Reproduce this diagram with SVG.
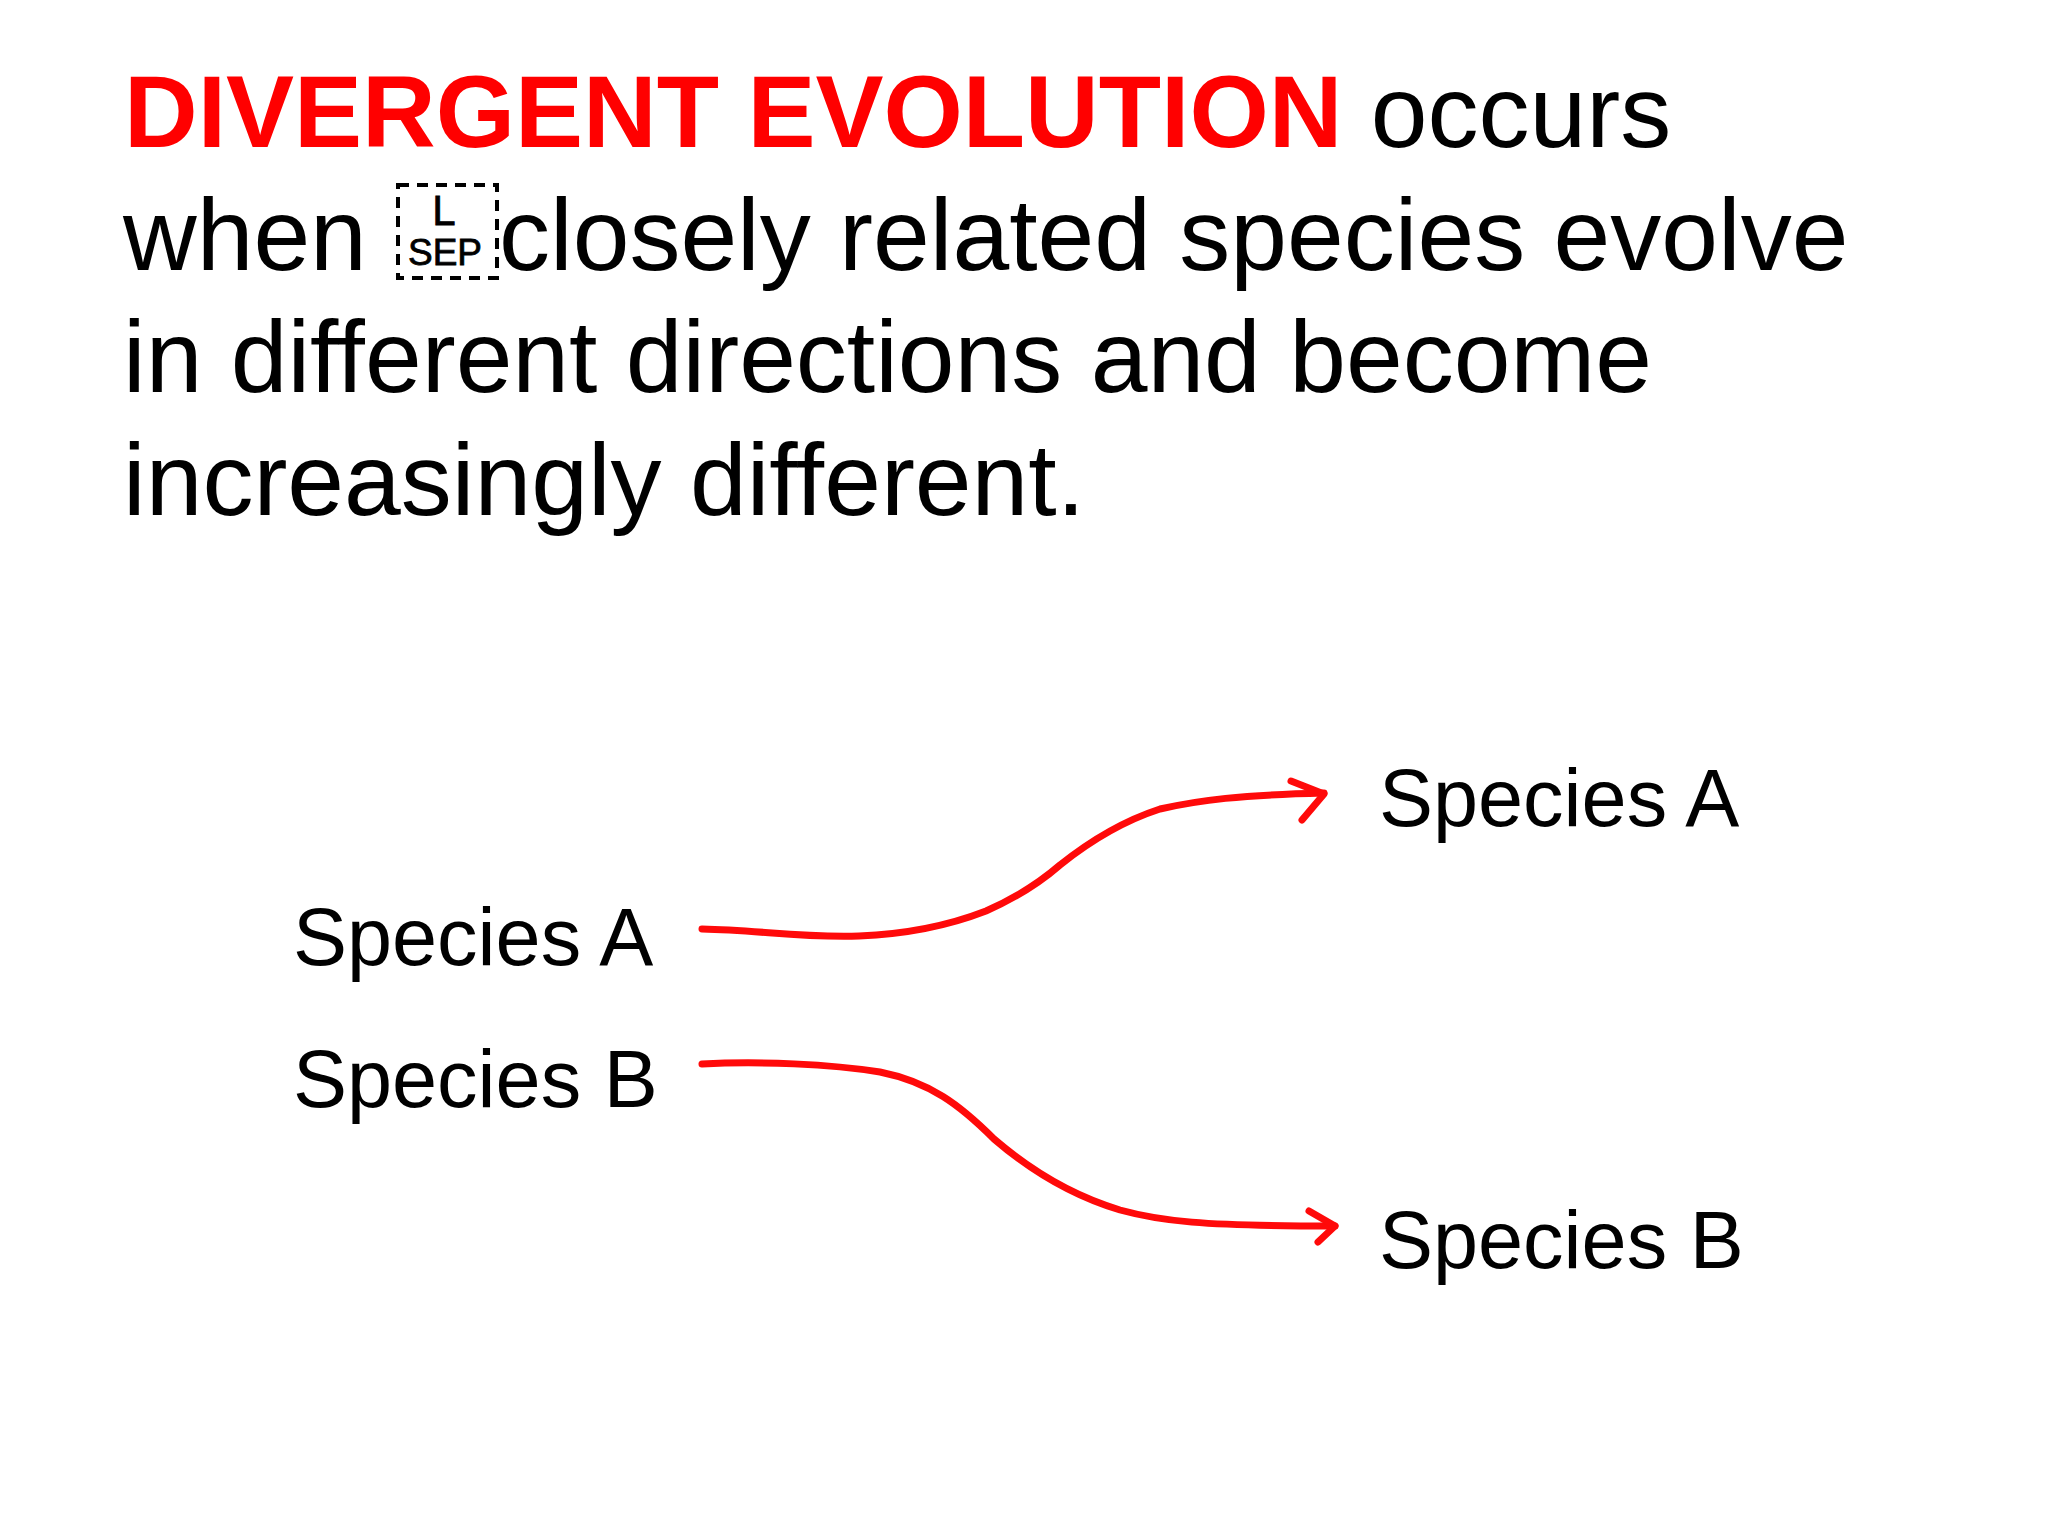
<svg xmlns="http://www.w3.org/2000/svg" width="2048" height="1536" viewBox="0 0 2048 1536">
<style>
.t{font-family:"Liberation Sans",Arial,sans-serif;font-size:102px;fill:#000}
.b{font-weight:bold;fill:#ff0000}
.lbl{font-family:"Liberation Sans",Arial,sans-serif;font-size:81px;fill:#000}
.sep{font-family:"Liberation Sans",Arial,sans-serif;fill:#000;stroke:#000;stroke-width:0.8}
.arr{fill:none;stroke:#ff0a0a;stroke-width:7;stroke-linecap:round;stroke-linejoin:round}
</style>
<rect width="2048" height="1536" fill="#fff"/>
<g id="heading">
<text class="t" x="124" y="147"><tspan class="b">DIVERGENT EVOLUTION</tspan> occurs</text>
<text class="t" x="123" y="270">when</text>
<g id="sep-glyph">
<rect x="398" y="185" width="99" height="93" fill="none" stroke="#000" stroke-width="4" stroke-dasharray="11,8"/>
<text class="sep" text-anchor="middle"><tspan x="444" y="225" font-size="42">L</tspan><tspan x="445" y="265" font-size="37">SEP</tspan></text>
</g>
<text class="t" x="499" y="270">closely related species evolve</text>
<text class="t" x="123" y="392">in different directions and become</text>
<text class="t" x="123" y="515">increasingly different.</text>
</g>
<g id="node-species-a-start"><text class="lbl" x="293" y="965">Species A</text></g>
<g id="node-species-b-start"><text class="lbl" x="293" y="1107">Species B</text></g>
<g id="node-species-a-end"><text class="lbl" x="1379" y="826">Species A</text></g>
<g id="node-species-b-end"><text class="lbl" x="1379" y="1268">Species B</text></g>
<g id="connectors">
<path class="arr" d="M702,929 C760,930 800,938 859,936 C910,934 950,925 986,911 C1020,896 1045,878 1060,865 C1085,845 1120,822 1160,809 C1200,800 1240,795 1324,793"/>
<path class="arr" d="M1291,781 L1324,794 L1302,820"/>
<path class="arr" d="M702,1064 C760,1061 830,1064 880,1072 C930,1082 960,1105 994,1139 C1030,1170 1070,1195 1120,1210 C1160,1221 1200,1226 1335,1226"/>
<path class="arr" d="M1309,1211 L1335,1226 L1318,1242"/>
</g>
</svg>
